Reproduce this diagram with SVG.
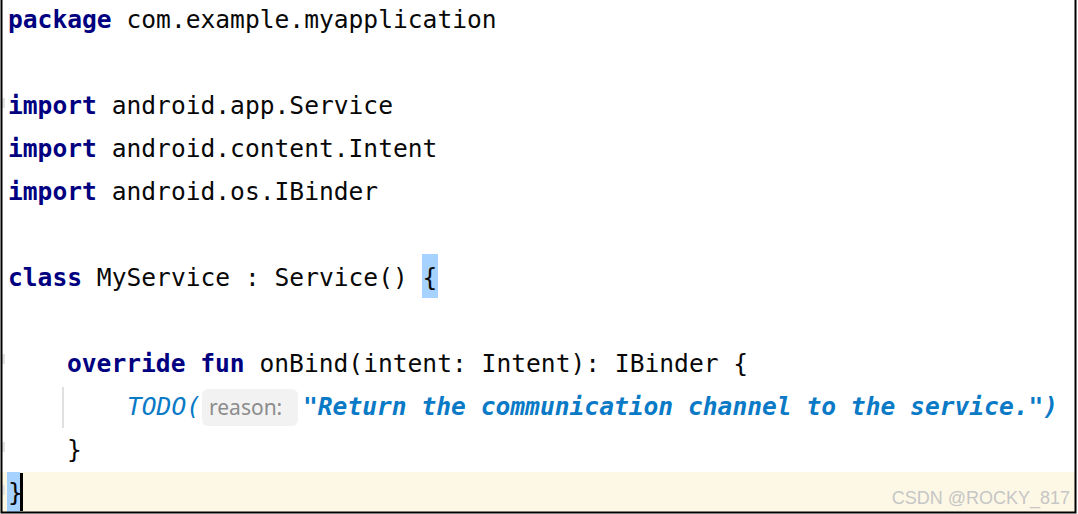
<svg xmlns="http://www.w3.org/2000/svg" width="1078" height="514" viewBox="0 0 1078 514">
<style>
.c{font-family:"DejaVu Sans Mono","Liberation Mono",monospace;font-size:24.6px;fill:#080808}
.k{font-weight:bold;fill:#000080}
.s{fill:#0a7ac6;font-style:italic;font-weight:bold}
.t{fill:#0a7ac6;font-style:italic}
</style>
<rect width="1078" height="514" fill="#fff"/>
<rect x="0" y="472" width="1076" height="40" fill="#fdf8e5"/>
<rect x="422" y="254" width="16" height="44" fill="#a6d2ff"/>
<rect x="7" y="472" width="13" height="40" fill="#a6d2ff"/>
<rect x="20" y="473" width="3" height="38" fill="#000"/>
<line x1="63" y1="387" x2="63" y2="428" stroke="#e0e0e0" stroke-width="2"/>
<g fill="#e4e4e4"><rect x="1" y="98" width="4" height="10"/><rect x="1" y="354" width="4" height="10"/><rect x="1" y="442" width="4" height="10"/><rect x="1" y="485" width="4" height="10"/></g>
<rect x="202" y="389" width="96" height="37" rx="6" fill="#f2f2f2"/>
<g id="code">
<text class="c" x="8" y="28"><tspan class="k">package</tspan> com.example.myapplication</text>
<text class="c" x="8" y="114"><tspan class="k">import</tspan> android.app.Service</text>
<text class="c" x="8" y="157"><tspan class="k">import</tspan> android.content.Intent</text>
<text class="c" x="8" y="200"><tspan class="k">import</tspan> android.os.IBinder</text>
<text class="c" x="8" y="286"><tspan class="k">class</tspan> MyService : Service() {</text>
<text class="c" x="67" y="372"><tspan class="k">override fun</tspan> onBind(intent: Intent): IBinder {</text>
<text class="c t" x="127" y="415">TODO(</text>
<text x="209" y="415" style="font-family:'Noto Sans','Liberation Sans',sans-serif;font-size:21px;fill:#8c8c8c">reason:</text>
<text class="c s" x="303" y="415">"Return the communication channel to the service.")</text>
<text class="c" x="67" y="458">}</text>
<text class="c" x="8" y="501">}</text>
</g>
<text x="1070" y="504" text-anchor="end" style="font-family:'Liberation Sans',Arial,sans-serif;font-size:18px;fill:#c6c6c6">CSDN @ROCKY_817</text>
<path d="M1.5 0V512.5H1075.5V0" fill="none" stroke="#000" stroke-width="2"/>
</svg>
